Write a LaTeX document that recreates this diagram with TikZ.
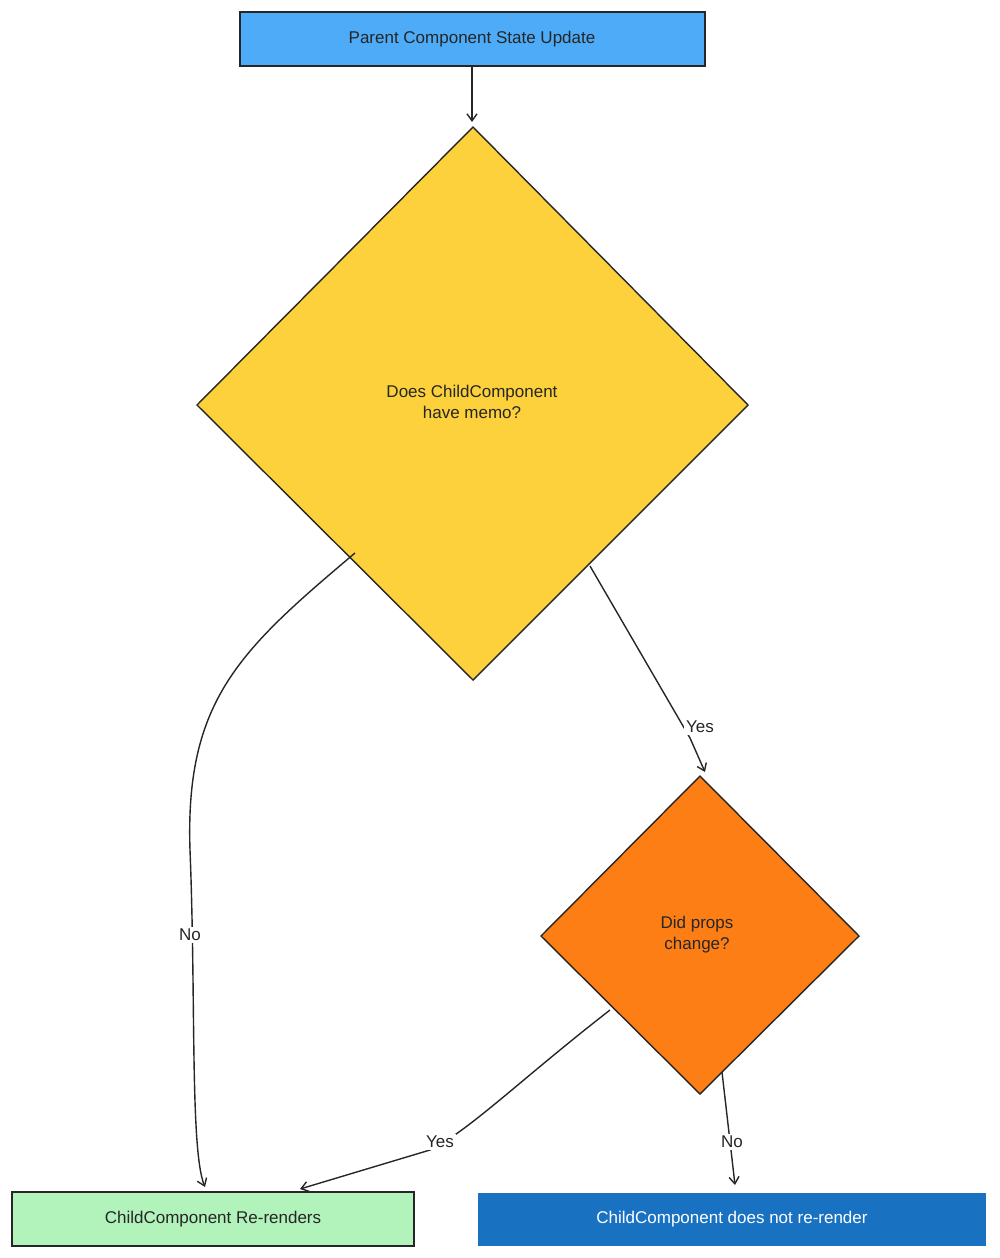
\documentclass[tikz,border=0pt]{standalone}
\usepackage{fontspec}
\setmainfont{Liberation Sans}
\usetikzlibrary{arrows.meta}
\definecolor{topblue}{HTML}{4DABF7}
\definecolor{ylw}{HTML}{FCD13B}
\definecolor{org}{HTML}{FD7E14}
\definecolor{grn}{HTML}{B2F2BB}
\definecolor{dblue}{HTML}{1971C2}
\begin{document}
\begin{tikzpicture}[x=1pt,y=-1pt,
  txt/.style={font=\fontsize{17}{21}\selectfont,align=center,text=black!85},
  box/.style={draw=black!85,line width=1.4pt},
  conn/.style={draw=black!85,line width=1.4pt,-{Straight Barb[length=7pt,width=10pt]}},
  lbl/.style={txt,fill=white,inner sep=2pt}]
\useasboundingbox (0,0) rectangle (1000,1258);
% top box
\draw[box,fill=topblue] (240,12) rectangle (705,66);
\node[txt] (top) at (472,39) {Parent Component State Update};
\coordinate (topS) at (472,66);
% big diamond
\coordinate (dT) at (473,127); \coordinate (dL) at (197,405);
\coordinate (dR) at (748,405); \coordinate (dB) at (473,680);
\draw[box,fill=ylw] (dT)--(dR)--(dB)--(dL)--cycle;
\node[txt] (memo) at (472,402) {Does ChildComponent\\have memo?};
% small diamond
\coordinate (sT) at (700,776); \coordinate (sL) at (541,936);
\coordinate (sR) at (859,936); \coordinate (sB) at (700,1094);
\draw[box,fill=org] (sT)--(sR)--(sB)--(sL)--cycle;
\node[txt] (props) at (697,935) {Did props\\change?};
% bottom boxes
\draw[box,fill=grn] (12,1192) rectangle (414,1246);
\node[txt] (rr) at (213,1219) {ChildComponent Re-renders};
\fill[dblue] (478,1193) rectangle (986,1246);
\node[txt,text=white] (nr) at (732,1219) {ChildComponent does not re-render};
% connectors
\coordinate (a1) at (472,122);
\draw[conn] (topS) -- (a1);
\coordinate (noS) at (355,553); \coordinate (noE) at (205,1187);
\draw[conn] (noS) .. controls (240,650) and (185,700) .. (190,850)
  .. controls (196,1000) and (190,1150) .. (noE);
\node[lbl] (no1) at (190,935) {No};
\coordinate (ysS) at (590,566); \coordinate (ysE) at (705,772);
\draw[conn] (ysS) -- (690,738) -- (ysE);
\node[lbl] (yes1) at (700,727) {Yes};
\coordinate (y2S) at (610,1010); \coordinate (y2E) at (300,1189);
\draw[conn] (y2S) .. controls (520,1080) and (470,1130) .. (430,1150) -- (y2E);
\node[lbl] (yes2) at (440,1142) {Yes};
\coordinate (n2S) at (722,1072); \coordinate (n2E) at (735,1185);
\draw[conn] (n2S) -- (n2E);
\node[lbl] (no2) at (732,1142) {No};
\end{tikzpicture}
\end{document}
